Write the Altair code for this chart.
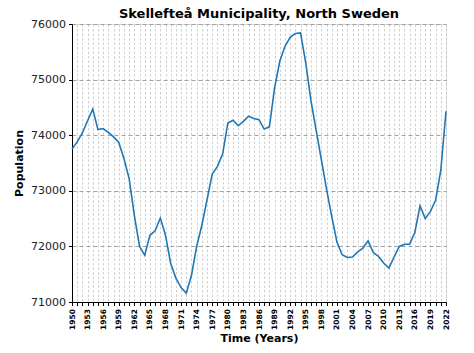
import altair as alt
import pandas as pd

years = list(range(1950, 2023))
population = [
    73750, 73880, 74040, 74260, 74470, 74100, 74120, 74050, 73970, 73870,
    73580, 73220, 72560, 72000, 71840, 72200, 72280, 72510, 72200, 71690,
    71430, 71260, 71160, 71480, 72000, 72380, 72840, 73300, 73440, 73660,
    74220, 74270, 74170, 74250, 74340, 74300, 74280, 74110, 74150, 74850,
    75330, 75600, 75760, 75830, 75840, 75300, 74620, 74090, 73560, 73030,
    72540, 72080, 71850, 71800, 71810, 71900, 71970, 72100, 71890, 71820,
    71700, 71610, 71810, 72000, 72040, 72040, 72250, 72730, 72500, 72630,
    72830, 73370, 74430,
]
y_ticks = [71000, 72000, 73000, 74000, 75000, 76000]

df = pd.DataFrame({"Year": years, "Population": population})

FONT = "DejaVu Sans"

chart = alt.Chart(df).mark_line(color="#1f77b4", strokeWidth=1.6).encode(
    x=alt.X(
        "Year:Q",
        scale=alt.Scale(domain=[1950, 2022], nice=False, zero=False),
        axis=alt.Axis(
            values=years,
            format="d",
            labelExpr="datum.value % 3 == 0 ? datum.label : ''",
            labelAngle=270,
            labelFont=FONT,
            labelFontWeight="bold",
            labelFontSize=7.5,
            labelColor="black",
            labelPadding=3,
            labelOverlap=False,
            labelFlush=False,
            tickSize=3.5,
            tickColor="black",
            domainColor="black",
            grid=True,
            gridDash=[2.5, 2],
            gridColor="#c4c4c4",
            gridWidth=0.8,
            title="Time (Years)",
            titleFont=FONT,
            titleFontWeight="bold",
            titleFontSize=11,
            titleColor="black",
            titlePadding=3,
        ),
    ),
    y=alt.Y(
        "Population:Q",
        scale=alt.Scale(domain=[71000, 76000], nice=False, zero=False),
        axis=alt.Axis(
            values=y_ticks,
            format="d",
            labelFont=FONT,
            labelFontSize=11,
            labelColor="#222",
            labelPadding=3,
            tickSize=3.5,
            tickColor="black",
            domainColor="black",
            grid=True,
            gridDash=[4, 3],
            gridColor="#999999",
            gridWidth=0.9,
            title="Population",
            titleFont=FONT,
            titleFontWeight="bold",
            titleFontSize=11,
            titleColor="black",
            titlePadding=6,
        ),
    ),
).properties(
    width=374,
    height=278,
    title=alt.TitleParams(
        "Skellefteå Municipality, North Sweden",
        font=FONT,
        fontSize=13,
        fontWeight="bold",
        color="black",
        anchor="middle",
        offset=-3,
    ),
    autosize=alt.AutoSizeParams(type="none"),
    padding={"left": 72, "top": 24, "right": 28, "bottom": 51},
).configure_view(
    stroke="black", strokeWidth=1
).configure(background="white")

chart.save("out.html", embed_options={"renderer": "svg", "actions": False})
